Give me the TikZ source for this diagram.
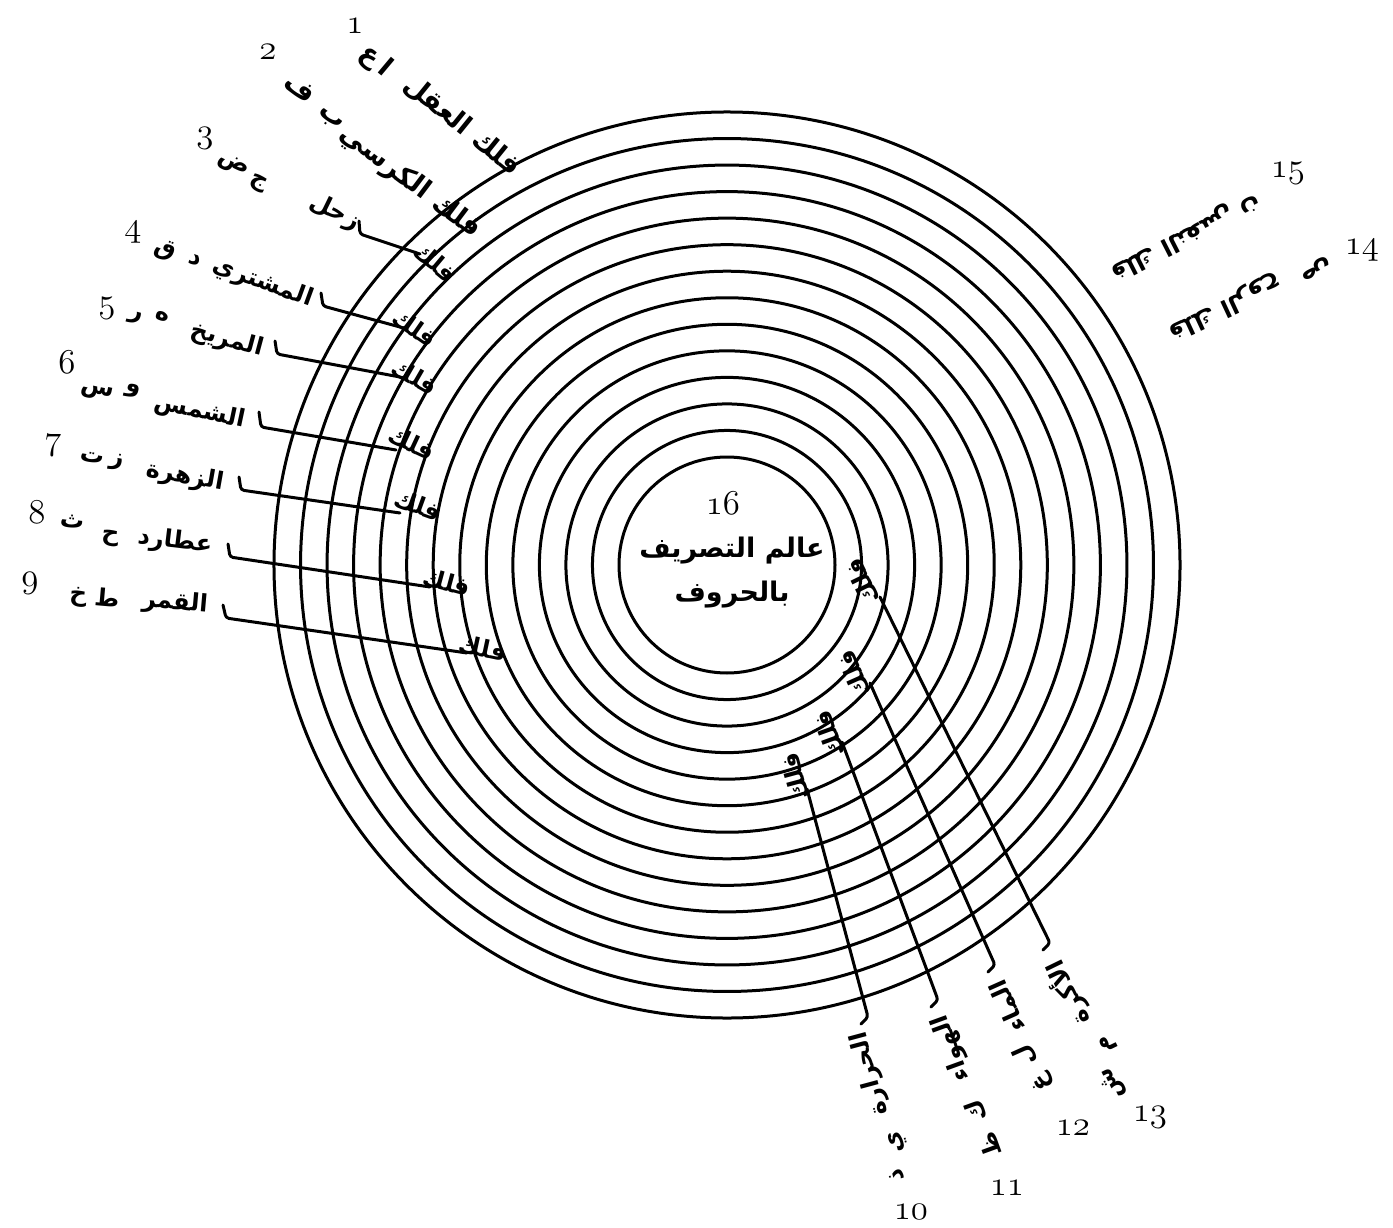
\documentclass[tikz,border=0pt]{standalone}
\usepackage{fontspec}
\newfontfamily\arabicfont[Script=Arabic]{DejaVu Sans}
\TeXXeTstate=1
\newcommand\AR[1]{\beginR #1\endR}
\newcommand\osnfont{\fontencoding{OML}\fontfamily{cmm}\fontseries{m}\fontshape{it}\selectfont}
\newcommand\osn[1]{\scalebox{1.4}{\fontsize{24.88}{28}\osnfont #1}}
\tikzset{
  ring/.style={draw, line width=3pt},
  conn/.style={draw, line width=3pt, line cap=round, line join=round, rounded corners=3pt},
  ar/.style={inner sep=0pt, font=\arabicfont\bfseries\fontsize{24}{28}\selectfont},
  arbig/.style={inner sep=0pt, font=\arabicfont\bfseries\fontsize{27}{30}\selectfont},
  arc/.style={inner sep=0pt, font=\arabicfont\bfseries\fontsize{27}{32}\selectfont},
  num/.style={inner sep=0pt},
}
\begin{document}
\begin{tikzpicture}[x=1pt,y=-1pt]
\useasboundingbox (0,0) rectangle (1393,1228);
\fill[white] (0,0) rectangle (1393,1228);
\coordinate (C) at (727,565);
\foreach \k in {0,...,13} \draw[ring] (C) circle[radius=108+26.54*\k];

% ---- label 1
\node[num] (n1) at (355,26) {\osn{1}};
\node[arbig, rotate=-40] (b1) at (368,58) {\AR{ع}};
\node[arbig, rotate=-40] (a1) at (387,67) {\AR{ا}};
\node[arbig, rotate=-39] (t1) at (462,126) {\AR{فلك العقل}};
% ---- label 2
\node[num] (n2) at (268,52) {\osn{2}};
\node[arbig, rotate=-37] (b2) at (300,88) {\AR{ف}};
\node[arbig, rotate=-37] (a2) at (330,120) {\AR{ب}};
\node[arbig, rotate=-37] (t2) at (410,182) {\AR{فلك الكرسي}};
% ---- label 3
\node[num] (n3) at (205,138) {\osn{3}};
\node[ar, rotate=-26] (b3) at (233,165) {\AR{ض}};
\node[ar, rotate=-26] (a3) at (258,183) {\AR{ج}};
\node[ar, rotate=-26] (t3) at (335,212) {\AR{زحل}};
\node[ar, rotate=-40] (f3) at (435,262) {\AR{فلك}};
\coordinate (h3a) at (359,221); \coordinate (h3b) at (360,234); \coordinate (h3c) at (420,254);
\draw[conn] (h3a) -- (h3b) -- (h3c);
% ---- label 4
\node[num] (n4) at (133,232) {\osn{4}};
\node[ar, rotate=-20] (b4) at (165,250) {\AR{ق}};
\node[ar, rotate=-20] (a4) at (195,260) {\AR{د}};
\node[ar, rotate=-20] (t4) at (263,283) {\AR{المشتري}};
\node[ar, rotate=-35] (f4) at (415,328) {\AR{فلك}};
\coordinate (h4a) at (321,293); \coordinate (h4b) at (323,306); \coordinate (h4c) at (400,327);
\draw[conn] (h4a) -- (h4b) -- (h4c);
% ---- label 5
\node[num] (n5) at (107,308) {\osn{5}};
\node[ar, rotate=-15] (b5) at (135,318) {\AR{ر}};
\node[ar, rotate=-15] (a5) at (162,317) {\AR{ه}};
\node[ar, rotate=-15] (t5) at (227,340) {\AR{المريخ}};
\node[ar, rotate=-30] (f5) at (415,377) {\AR{فلك}};
\coordinate (h5a) at (275,341); \coordinate (h5b) at (277,354); \coordinate (h5c) at (400,377);
\draw[conn] (h5a) -- (h5b) -- (h5c);
% ---- label 6
\node[num] (n6) at (67,362) {\osn{6}};
\node[ar, rotate=-12] (b6) at (97,393) {\AR{س}};
\node[ar, rotate=-12] (a6) at (133,391) {\AR{و}};
\node[ar, rotate=-12] (t6) at (200,412) {\AR{الشمس}};
\node[ar, rotate=-25] (f6) at (412,443) {\AR{فلك}};
\coordinate (h6a) at (259,412); \coordinate (h6b) at (261,427); \coordinate (h6c) at (396,450);
\draw[conn] (h6a) -- (h6b) -- (h6c);
% ---- label 7
\node[num] (n7) at (53,445) {\osn{7}};
\node[ar, rotate=-10] (b7) at (92,458) {\AR{ت}};
\node[ar, rotate=-10] (a7) at (117,462) {\AR{ز}};
\node[ar, rotate=-10] (t7) at (185,477) {\AR{الزهرة}};
\node[ar, rotate=-20] (f7) at (418,505) {\AR{فلك}};
\coordinate (h7a) at (239,477); \coordinate (h7b) at (241,490); \coordinate (h7c) at (400,513);
\draw[conn] (h7a) -- (h7b) -- (h7c);
% ---- label 8
\node[num] (n8) at (37,512) {\osn{8}};
\node[ar, rotate=-7] (b8) at (72,522) {\AR{ث}};
\node[ar, rotate=-7] (a8) at (110,538) {\AR{ح}};
\node[ar, rotate=-7] (t8) at (175,542) {\AR{عطارد}};
\node[ar, rotate=-15] (f8) at (447,582) {\AR{فلك}};
\coordinate (h8a) at (228,544); \coordinate (h8b) at (230,557); \coordinate (h8c) at (430,587);
\draw[conn] (h8a) -- (h8b) -- (h8c);
% ---- label 9
\node[num] (n9) at (30,583) {\osn{9}};
\node[ar, rotate=-5] (b9) at (78,597) {\AR{خ}};
\node[ar, rotate=-5] (a9) at (107,598) {\AR{ط}};
\node[ar, rotate=-5] (t9) at (175,603) {\AR{القمر}};
\node[ar, rotate=-12] (f9) at (483,648) {\AR{فلك}};
\coordinate (h9a) at (223,605); \coordinate (h9b) at (226,618); \coordinate (h9c) at (467,653);
\draw[conn] (h9a) -- (h9b) -- (h9c);

% ---- label 10
\node[ar, rotate=105] (f10) at (795,777) {\AR{فلك}};
\coordinate (g10a) at (807,789); \coordinate (g10b) at (868,1017); \coordinate (g10c) at (861,1024);
\draw[conn] (g10a) -- (g10b) -- (g10c);
\node[ar, rotate=105] (t10) at (870,1074) {\AR{الحرارة}};
\node[ar, rotate=105] (a10) at (898,1142) {\AR{ي}};
\node[ar, rotate=105] (b10) at (897,1175) {\AR{ذ}};
\node[num] (n10) at (911,1212) {\osn{10}};
% ---- label 11
\node[ar, rotate=110] (f11) at (829,734) {\AR{فلك}};
\coordinate (g11a) at (842,742); \coordinate (g11b) at (938,1000); \coordinate (g11c) at (931,1007);
\draw[conn] (g11a) -- (g11b) -- (g11c);
\node[ar, rotate=110] (t11) at (952,1048) {\AR{الهواء}};
\node[ar, rotate=110] (a11) at (975,1111) {\AR{ك}};
\node[ar, rotate=110] (b11) at (990,1145) {\AR{ظ}};
\node[num] (n11) at (1007,1188) {\osn{11}};
% ---- label 12
\node[ar, rotate=114] (f12) at (854,674) {\AR{فلك}};
\coordinate (g12a) at (870,683); \coordinate (g12b) at (995,965); \coordinate (g12c) at (988,972);
\draw[conn] (g12a) -- (g12b) -- (g12c);
\node[ar, rotate=114] (t12) at (1007,1006) {\AR{الماء}};
\node[ar, rotate=114] (a12) at (1025,1056) {\AR{ل}};
\node[ar, rotate=114] (b12) at (1043,1082) {\AR{غ}};
\node[num] (n12) at (1073,1128) {\osn{12}};
% ---- label 13
\node[ar, rotate=116] (f13) at (862,582) {\AR{فلك}};
\coordinate (g13a) at (880,597); \coordinate (g13b) at (1050,943); \coordinate (g13c) at (1043,950);
\draw[conn] (g13a) -- (g13b) -- (g13c);
\node[ar, rotate=116] (t13) at (1068,993) {\AR{الأكرة}};
\node[ar, rotate=116] (a13) at (1108,1043) {\AR{م}};
\node[ar, rotate=116] (b13) at (1113,1083) {\AR{ش}};
\node[num] (n13) at (1150,1117) {\osn{13}};

% ---- labels 14, 15
\node[ar, rotate=207] (t15) at (1172,243) {\AR{فلك النفس}};
\node[ar, rotate=207] (a15) at (1250,205) {\AR{ن}};
\node[num] (n15) at (1288,173) {\osn{15}};
\node[ar, rotate=205] (t14) at (1225,307) {\AR{فلك الروح}};
\node[ar, rotate=205] (a14) at (1315,269) {\AR{ص}};
\node[num] (n14) at (1362,250) {\osn{14}};

% ---- centre
\node[num] (n16) at (723,503) {\osn{16}};
\node[arc] (c1) at (732,551) {\AR{عالم التصريف}};
\node[arc] (c2) at (732,595) {\AR{بالحروف}};
\end{tikzpicture}
\end{document}
